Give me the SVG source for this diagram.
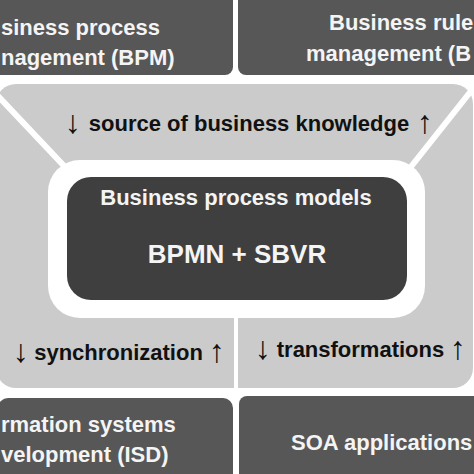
<svg xmlns="http://www.w3.org/2000/svg" width="474" height="474" viewBox="0 0 474 474">
<style>
.quad{fill:#575757}
.qt{fill:#f4f4f4;font-family:"Liberation Sans",Arial,sans-serif;font-weight:bold;font-size:22px}
.lt{fill:#111;font-family:"Liberation Sans",Arial,sans-serif;font-weight:bold;font-size:22px;text-anchor:middle}
.ar{fill:#111;font-family:"Liberation Sans","DejaVu Sans",sans-serif;font-weight:normal;font-size:32px;text-anchor:middle}
.sep{stroke:#fff;stroke-width:6;fill:none}
</style>
<rect width="474" height="474" fill="#fff"/>
<g id="bpm">
<rect class="quad" x="-20" y="-20" width="253" height="95" rx="8"/>
<text class="qt" x="1" y="35">siness process</text>
<text class="qt" x="1" y="65">nagement (BPM)</text>
</g>
<g id="brm">
<rect class="quad" x="238" y="-20" width="256" height="95" rx="8"/>
<text class="qt" x="329" y="30">Business rule</text>
<text class="qt" x="306" y="61">management (B</text>
</g>
<g id="isd">
<rect class="quad" x="-2" y="398" width="235" height="96" rx="10"/>
<text class="qt" x="1" y="432">rmation systems</text>
<text class="qt" x="1" y="462">velopment (ISD)</text>
</g>
<g id="soa">
<rect class="quad" x="239" y="396" width="255" height="98" rx="8"/>
<text class="qt" x="291" y="450">SOA applications</text>
</g>
<g id="frame">
<rect x="-4" y="84" width="477" height="304" rx="20" fill="#cbcbcb"/>
<rect x="48" y="160" width="377" height="158" rx="32" fill="#fff"/>
</g>
<g id="connectors">
<line class="sep" x1="-2" y1="96" x2="66" y2="168"/>
<line class="sep" x1="475" y1="86" x2="410" y2="168"/>
<line x1="236" y1="316" x2="236" y2="398" stroke="#fff" stroke-width="4"/>
</g>
<g id="knowledge">
<text class="ar" x="73" y="133">↓</text>
<text class="lt" x="249" y="131">source of business knowledge</text>
<text class="ar" x="425" y="133">↑</text>
</g>
<g id="synchronization">
<text class="ar" x="21" y="362">↓</text>
<text class="lt" x="118.5" y="360">synchronization</text>
<text class="ar" x="217" y="362">↑</text>
</g>
<g id="transformations">
<text class="ar" x="263" y="359">↓</text>
<text class="lt" x="360.5" y="357">transformations</text>
<text class="ar" x="458" y="359">↑</text>
</g>
<g id="models">
<rect x="67" y="177" width="340" height="123" rx="24" fill="#3f3f3f"/>
<text x="236" y="205" fill="#f4f4f4" font-family="Liberation Sans, Arial, sans-serif" font-weight="bold" font-size="22" text-anchor="middle">Business process models</text>
<text x="237" y="263" fill="#f4f4f4" font-family="Liberation Sans, Arial, sans-serif" font-weight="bold" font-size="26" text-anchor="middle">BPMN + SBVR</text>
</g>
</svg>
